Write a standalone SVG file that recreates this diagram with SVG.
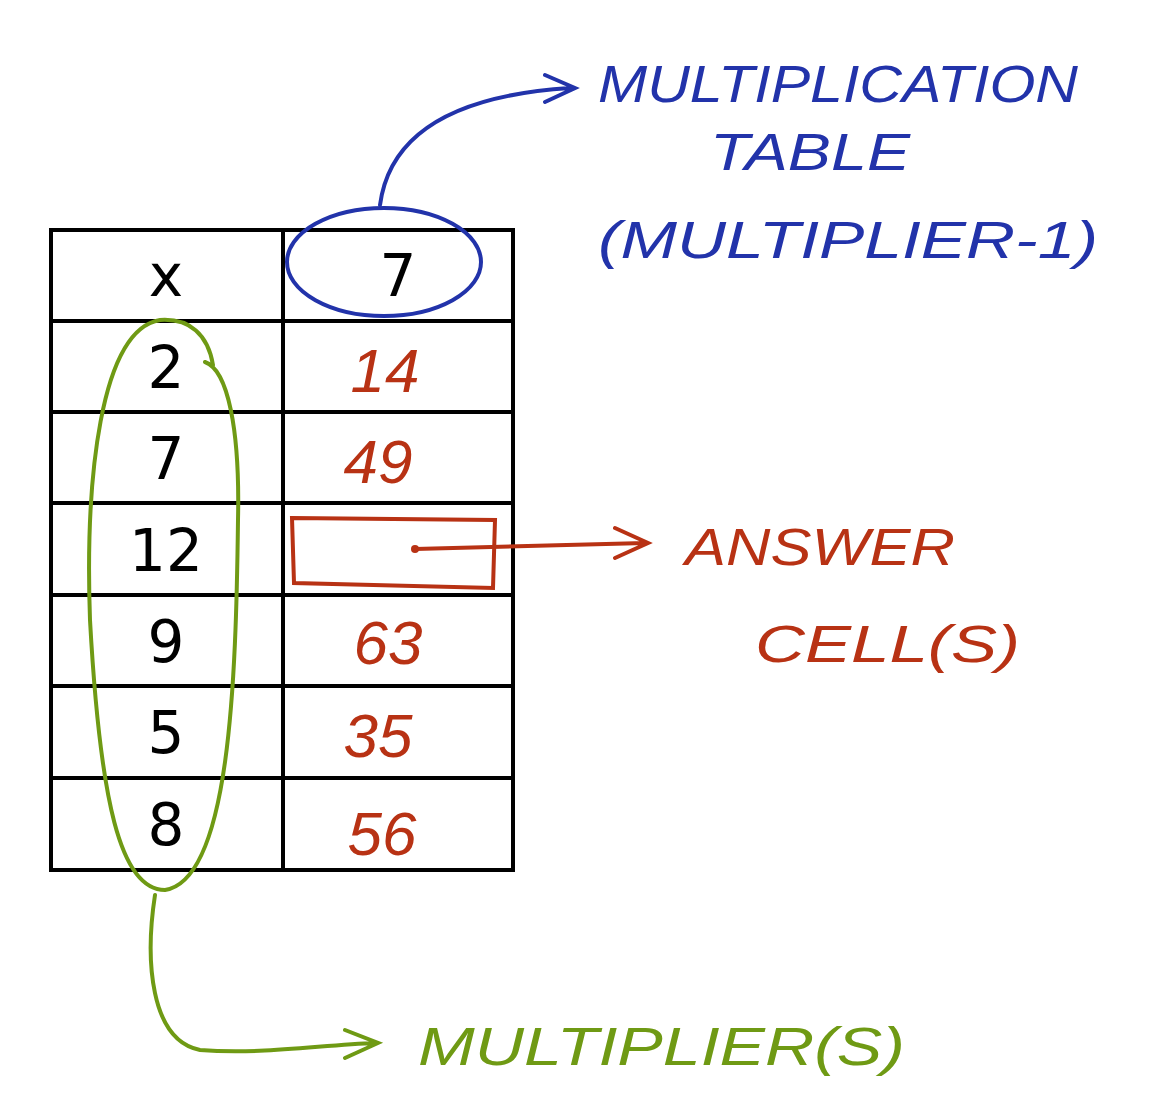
<svg xmlns="http://www.w3.org/2000/svg" width="1153" height="1117" viewBox="0 0 1153 1117">
<style>
.t{font-family:"DejaVu Sans","Liberation Sans",sans-serif;font-size:58px;fill:#000;text-anchor:middle}
.r{font-family:"Liberation Sans",sans-serif;font-size:62px;fill:#b83214;font-style:italic;text-anchor:middle}
.b{font-family:"Liberation Sans",sans-serif;font-size:52px;fill:#2233aa;font-style:italic}
.g{font-family:"Liberation Sans",sans-serif;font-size:54px;fill:#6f9a14;font-style:italic}
.rl{font-family:"Liberation Sans",sans-serif;font-size:52px;fill:#b83214;font-style:italic}
</style>
<rect width="1153" height="1117" fill="#fff"/>
<g id="table" fill="none" stroke="#000" stroke-width="4">
<rect x="51" y="230" width="462" height="640"/>
<line x1="283" y1="230" x2="283" y2="870"/>
<line x1="51" y1="321" x2="513" y2="321"/>
<line x1="51" y1="412" x2="513" y2="412"/>
<line x1="51" y1="503" x2="513" y2="503"/>
<line x1="51" y1="595" x2="513" y2="595"/>
<line x1="51" y1="686" x2="513" y2="686"/>
<line x1="51" y1="778" x2="513" y2="778"/>
</g>
<g id="left">
<text class="t" x="166" y="296">x</text>
<text class="t" x="166" y="388">2</text>
<text class="t" x="166" y="479">7</text>
<text class="t" x="166" y="571">12</text>
<text class="t" x="166" y="662">9</text>
<text class="t" x="166" y="753">5</text>
<text class="t" x="166" y="845">8</text>
<text class="t" x="398" y="296">7</text>
</g>
<g id="answers">
<text class="r" x="385" y="392">14</text>
<text class="r" x="378" y="483">49</text>
<text class="r" x="388" y="664">63</text>
<text class="r" x="378" y="757">35</text>
<text class="r" x="382" y="855">56</text>
</g>
<g id="connectors" fill="none" stroke-width="4" stroke-linecap="round">
<ellipse cx="384" cy="262" rx="97" ry="54" stroke="#2233aa"/>
<path d="M380,205 C390,130 460,95 570,88 M545,75 L575,88 L545,102" stroke="#2233aa"/>
<path d="M205,362 C228,370 240,430 238,520 C236,680 230,880 165,890 C120,890 100,800 90,620 C85,480 100,330 160,320 C190,318 208,335 213,365" stroke="#6f9a14"/>
<path d="M155,895 C145,960 150,1040 200,1050 C260,1055 320,1045 375,1043 M345,1030 L378,1043 L345,1058" stroke="#6f9a14"/>
<path d="M292,518 L495,520 L493,588 L294,583 Z" stroke="#b83214"/>
<circle cx="415" cy="549" r="4" fill="#b83214" stroke="none"/>
<path d="M415,549 L645,543 M615,528 L648,543 L615,558" stroke="#b83214"/>
</g>
<g id="labels">
<text class="b" x="598" y="102" textLength="480" lengthAdjust="spacingAndGlyphs">MULTIPLICATION</text>
<text class="b" x="710" y="170" textLength="200" lengthAdjust="spacingAndGlyphs">TABLE</text>
<text class="b" x="598" y="258" textLength="500" lengthAdjust="spacingAndGlyphs">(MULTIPLIER-1)</text>
<text class="rl" x="685" y="565" textLength="270" lengthAdjust="spacingAndGlyphs">ANSWER</text>
<text class="rl" x="755" y="662" textLength="265" lengthAdjust="spacingAndGlyphs">CELL(S)</text>
<text class="g" x="418" y="1065" textLength="487" lengthAdjust="spacingAndGlyphs">MULTIPLIER(S)</text>
</g>
</svg>
